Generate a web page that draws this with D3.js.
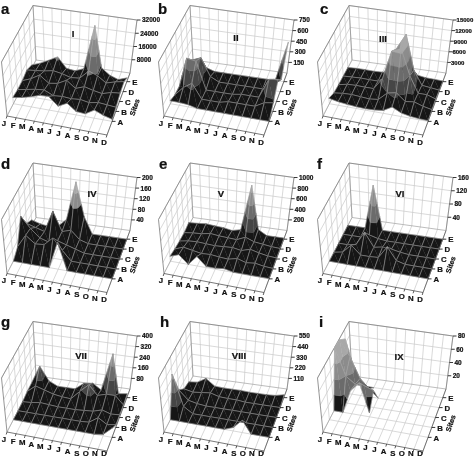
<!DOCTYPE html>
<html><head><meta charset="utf-8">
<script src="https://cdn.jsdelivr.net/npm/d3@7"></script>
<style>html,body{margin:0;padding:0;background:#fff}svg{display:block;filter:blur(0.45px)}text{font-family:"Liberation Sans",Arial,sans-serif;font-weight:700;fill:#111;stroke:#111;stroke-width:.22px}</style>
</head><body><svg id="c" width="474" height="457"></svg>
<script>
const monthLabels=["J","F","M","A","M","J","J","A","S","O","N","D"];
const siteLabels=["A","B","C","D","E"];
const panelLetters=["a","b","c","d","e","f","g","h","i"];
const romanLabels=["I","II","III","IV","V","VI","VII","VIII","IX"];
const ticksI=[8000,16000,24000,32000];
const ticksII=[150,300,450,600,750];
const ticksIII=[3000,6000,9000,12000,15000];
const ticksIV=[40,80,120,160,200];
const ticksV=[200,400,600,800,1000];
const ticksVI=[40,80,120,160];
const ticksVII=[80,160,240,320,400];
const ticksVIII=[110,220,330,440,550];
const ticksIX=[20,40,60,80];
// colour-band upper limits (panel IV shades its spikes later than its ticks)
const bandsIV=[105,150,200];
// rows are sites A..E, columns are months J..D
const valuesI=[
[3700,4600,6000,7800,8100,3300,6000,2100,1600,4800,2700,1200],
[3000,4000,5000,5500,3000,3500,3000,3500,2500,3500,3000,2500],
[3000,5000,8000,4000,4800,7500,3500,5400,4000,3000,4500,5000],
[4000,4500,5000,6000,5000,3500,4000,9000,7000,3500,5000,6000],
[1700,3500,6000,8700,2700,2000,4000,30500,6000,2300,500,2300]];
const valuesII=[
[40,40,30,0,0,0,0,0,0,0,0,0],
[0,120,200,0,0,0,30,30,30,30,100,120],
[0,400,380,0,0,0,0,20,20,20,290,310],
[0,250,300,60,0,0,0,0,0,0,60,170],
[0,80,40,0,0,0,0,0,0,0,0,560]];
const valuesIII=[
[1500,1000,700,500,400,500,800,2200,1000,500,300,200],
[500,800,900,700,500,800,3000,3500,1500,1800,1000,500],
[300,800,900,800,800,4000,12000,13000,6000,1500,1500,700],
[200,300,400,300,300,2000,10000,14500,4800,1000,700,400],
[100,200,200,100,200,400,1000,2600,800,400,300,200]];
const valuesIV=[
[0,0,0,0,0,100,0,0,0,0,0,0],
[20,68,42,45,75,35,0,0,0,0,0,0],
[100,60,30,20,30,20,10,0,0,0,0,0],
[40,30,20,100,30,40,10,0,0,0,0,0],
[20,10,5,10,40,185,60,0,0,0,0,0]];
const valuesV=[
[90,150,0,175,20,20,40,5,5,5,5,5],
[60,120,90,60,70,50,40,80,30,50,20,10],
[40,70,80,70,60,70,80,50,100,60,30,20],
[30,50,60,90,70,60,50,120,60,40,20,10],
[50,60,75,60,50,20,60,910,110,20,20,20]];
const valuesVI=[
[0,0,0,0,0,0,0,0,0,0,0,0],
[0,5,30,5,5,7,43,7,0,0,0,0],
[0,0,5,45,5,10,8,3,0,0,0,0],
[0,0,0,10,3,0,0,0,0,0,0,0],
[0,0,0,130,0,0,0,0,0,0,0,0]];
const valuesVII=[
[0,0,0,0,0,0,0,0,0,0,10,70],
[0,0,0,0,0,0,0,0,5,50,10,20],
[0,5,15,10,5,5,5,10,15,35,15,20],
[10,60,40,20,10,5,70,130,60,80,80,20],
[10,140,40,10,10,10,60,70,30,310,20,30]];
const valuesVIII=[
[0,0,0,0,0,0,0,35,125,0,0,0],
[370,60,0,0,0,0,0,0,0,0,0,0],
[120,30,10,0,0,0,0,0,0,0,0,0],
[40,20,30,40,15,10,10,0,0,0,0,0],
[20,30,80,15,10,10,10,5,5,5,10,30]];
const valuesIX=[
[null,null,null,null,null,null,null,null,null,null,null,null],
[0,0,34,48,6,null,null,null,null,null,null,null],
[80,40,30,30,25,null,null,null,null,null,null,null],
[78,55,25,12,0,null,null,null,null,null,null,null],
[66,14,0,0,null,null,null,null,null,null,null,null]];
const panelValues=[valuesI,valuesII,valuesIII,valuesIV,valuesV,valuesVI,valuesVII,valuesVIII,valuesIX];
const panelTicks=[ticksI,ticksII,ticksIII,ticksIV,ticksV,ticksVI,ticksVII,ticksVIII,ticksIX];

// layout
const colX=[0,157,316], rowY=[0,157.5,316];
const romanPos=[[73,33],[79,37],[67,38],[92,36],[64,36],[84,36],[81,39],[82,39],[83,40]];
const letterPos=[[1,13.6],[1,13.6],[4,13.6],[1,11],[2,11],[1,11],[1,11],[3,11],[3,11]];
const bandFill=["#161616","#464646","#6b6b6b","#8c8c8c","#a8a8a8"];
const floorC={bl:[36,60],br:[130,73],fl:[7,116],fr:[107,135]};
const upC={bl:[-3,-54.5],br:[7,-53],fl:[-5.5,-54],fr:[1,-54]};
const lerp=(a,b,t)=>a+(b-a)*t;
const bil=(c,u,v,i)=>lerp(lerp(c.fl[i],c.fr[i],u),lerp(c.bl[i],c.br[i],u),v);
const project=(u,v,w)=>[bil(floorC,u,v,0)+w*bil(upC,u,v,0),bil(floorC,u,v,1)+w*bil(upC,u,v,1)];

const xScale=d3.scalePoint().domain(d3.range(12)).range([0,1]);
const yScale=d3.scalePoint().domain(d3.range(5)).range([0.22,0.86]);
const line=d3.line();
const svg=d3.select("#c");

function clipBand(tri,lo,hi){
  const clip=(pts,keep,lim)=>{
    const out=[];
    pts.forEach((p,i)=>{
      const q=pts[(i+1)%pts.length];
      const kp=keep(p[2]),kq=keep(q[2]);
      if(kp)out.push(p);
      if(kp!==kq){const t=(lim-p[2])/(q[2]-p[2]);out.push([lerp(p[0],q[0],t),lerp(p[1],q[1],t),lim]);}
    });
    return out;
  };
  let r=clip(tri,w=>w>=lo,lo);
  if(r.length)r=clip(r,w=>w<=hi,hi);
  return r;
}

panelValues.forEach((vals,pi)=>{
  const ticks=panelTicks[pi];
  const zScale=d3.scaleLinear().domain([0,d3.max(ticks)]).range([0,1]);
  const row=Math.floor(pi/3), col=pi%3;
  const g=svg.append("g").attr("transform",`translate(${colX[col]},${rowY[row]})`);
  const seg=(pts,stroke,sw)=>g.append("path").attr("d",line(pts.map(p=>project(...p)))).attr("fill","none").attr("stroke",stroke).attr("stroke-width",sw);
  const gridC="#c8c8c8", edgeC="#8a8a8a";
  ticks.forEach(t=>{const w=zScale(t);
    seg([[0,0,w],[0,1,w],[1,1,w]],gridC,.7);
  });
  xScale.domain().forEach(m=>{const u=xScale(m);
    seg([[u,1,0],[u,1,1]],gridC,.7);
    seg([[u,0,0],[u,1,0]],gridC,.7);
  });
  yScale.domain().forEach(s=>{const v=yScale(s);
    seg([[0,v,0],[0,v,1]],gridC,.7);
    seg([[0,v,0],[1,v,0]],gridC,.7);
  });
  seg([[0,0,0],[0,0,1],[0,1,1],[1,1,1],[1,1,0]],edgeC,.9);
  seg([[0,1,1],[0,1,0]],edgeC,.7);
  seg([[0,0,0],[0,1,0],[1,1,0]],"#a0a0a0",.7);
  seg([[0,0,0],[1,0,0],[1,1,0]],"#555",.8);

  // surface: far rows first
  const limits=(pi===3?bandsIV:ticks);
  const n=limits.length;
  for(let s=4;s>=1;s--){
    for(let m=0;m<11;m++){
      const raw=[[m,s],[m+1,s],[m+1,s-1],[m,s-1]];
      if(raw.some(([a,b])=>vals[b][a]===null))continue;
      const c=raw.map(([a,b])=>[xScale(a),yScale(b),zScale(vals[b][a])]);
      [[c[0],c[1],c[2]],[c[0],c[2],c[3]]].forEach(tri=>{
        d3.range(n).forEach(b=>{
          const lo=b===0?-1:zScale(limits[b-1]);
          const hi=b===n-1?2:zScale(limits[b]);
          const poly=clipBand(tri,lo,hi);
          if(poly.length<3)return;
          const f=bandFill[b+(5-n>0&&b>0?5-n:0)];
          g.append("path").attr("d",line(poly.map(p=>project(...p)))+"Z").attr("fill",f).attr("stroke",f).attr("stroke-width",.35);
        });
      });
      g.append("path").attr("d",line(c.map(p=>project(...p)))+"Z").attr("fill","none").attr("stroke","#a8a8a8").attr("stroke-width",.5);
    }
  }
  // z axis
  ticks.forEach(t=>{
    const p=project(1,1,zScale(t));
    g.append("path").attr("d",line([p,[p[0]+3.5,p[1]]])).attr("stroke","#222").attr("stroke-width",.9);
    g.append("text").attr("x",p[0]+(pi===2?3.6:5)).attr("y",p[1]+2.4).attr("font-size",pi===2?6:6.5).text(d3.format("d")(t));
  });
  // month axis
  monthLabels.forEach((lab,i)=>{
    const p=project(xScale(i),0,0);
    g.append("path").attr("d",line([p,[p[0]-.8,p[1]+2.5]])).attr("stroke","#333").attr("stroke-width",.8);
    const y=Math.min(p[1]+9.8,456.4-rowY[row]);
    g.append("text").attr("x",p[0]-3).attr("y",y).attr("text-anchor","middle").attr("font-size",7.8).text(lab);
  });
  // site axis
  siteLabels.forEach((lab,i)=>{
    const p=project(1,yScale(i),0);
    g.append("path").attr("d",line([p,[p[0]+3.5,p[1]]])).attr("stroke","#222").attr("stroke-width",.9);
    g.append("text").attr("x",p[0]+5.5).attr("y",p[1]+3.2).attr("font-size",7.8).text(lab);
  });
  g.append("text").attr("transform","translate(137,108) rotate(-72)").attr("text-anchor","middle").attr("font-size",7.2).text("Sites");
  g.append("text").attr("x",romanPos[pi][0]).attr("y",romanPos[pi][1]+3.5).attr("text-anchor","middle").attr("font-size",9.5).text(romanLabels[pi]);
  g.append("text").attr("x",letterPos[pi][0]).attr("y",letterPos[pi][1]).attr("font-size",15).text(panelLetters[pi]);
});
</script></body></html>
